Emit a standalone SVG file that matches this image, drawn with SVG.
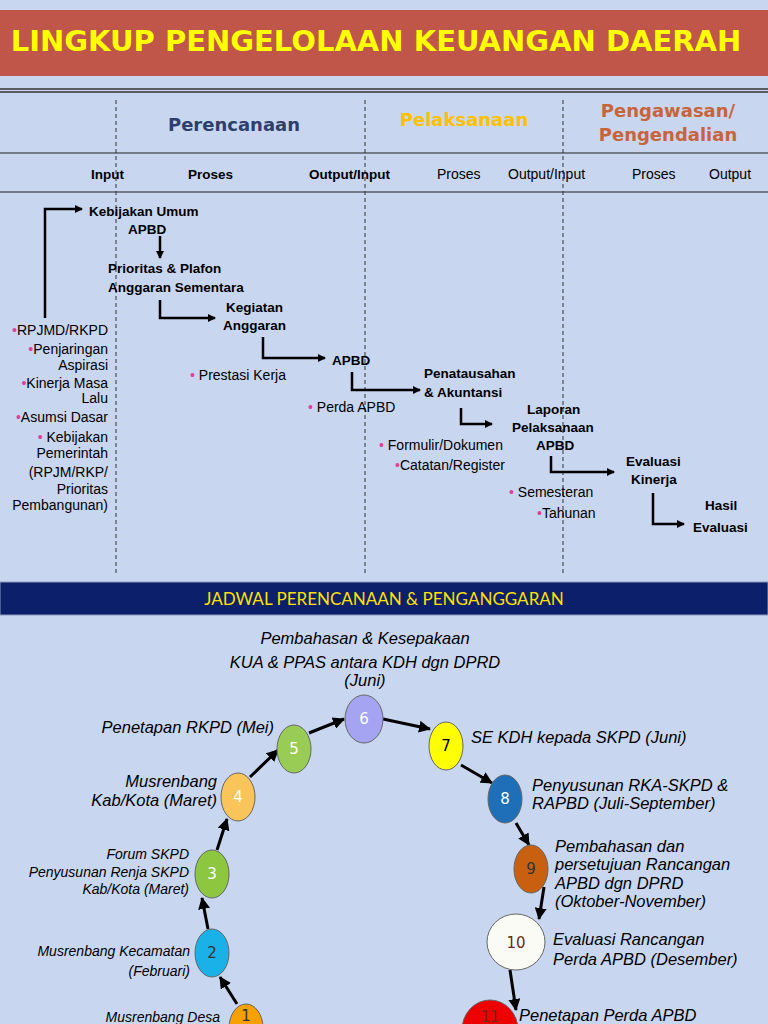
<svg xmlns="http://www.w3.org/2000/svg" width="768" height="1024" viewBox="0 0 768 1024">
<defs>
<marker id="ah" markerWidth="8" markerHeight="8" refX="7" refY="4" orient="auto" markerUnits="userSpaceOnUse"><path d="M0,0 L8,4 L0,8 z" fill="#000"/></marker>
<marker id="ah2" markerWidth="12" markerHeight="12" refX="11" refY="6" orient="auto" markerUnits="userSpaceOnUse"><path d="M0,0 L12,6 L0,12 z" fill="#000"/></marker>
</defs>
<style>
.b{font-family:"Liberation Sans",Arial,sans-serif;font-size:13.5px;font-weight:bold;fill:#000}
.n{font-family:"Liberation Sans",Arial,sans-serif;font-size:14px;fill:#000}
.s{font-family:"Liberation Sans",Arial,sans-serif;font-size:14px;fill:#000}
.i{font-family:"Liberation Sans",Arial,sans-serif;font-size:16.5px;font-style:italic;fill:#000}
.is{font-family:"Liberation Sans",Arial,sans-serif;font-size:14px;font-style:italic;fill:#000}
.h{font-family:"DejaVu Sans",sans-serif;font-size:18px;font-weight:bold}
.p{fill:#e0409a}
.fl{fill:none;stroke:#000;stroke-width:2.5;marker-end:url(#ah)}
.cl{fill:none;stroke:#000;stroke-width:3;marker-end:url(#ah2)}
.c{stroke:#666;stroke-width:1}
.cn{font-family:"DejaVu Sans",sans-serif;font-size:15px;text-anchor:middle;fill:#fff}
.dash{stroke:#333;stroke-width:1;stroke-dasharray:4,3}
</style>
<rect width="768" height="1024" fill="#c9d6f0"/>
<g id="title"><rect x="0" y="10" width="768" height="66" fill="#c0554a"/>
<text x="376" y="51" text-anchor="middle" font-family="DejaVu Sans,sans-serif" font-size="29" font-weight="bold" fill="#ffff00">LINGKUP PENGELOLAAN KEUANGAN DAERAH</text></g>
<g id="table">
<line x1="0" y1="89" x2="768" y2="89" stroke="#333" stroke-width="1.5"/>
<line x1="0" y1="92" x2="768" y2="92" stroke="#333" stroke-width="1.5"/>
<line x1="0" y1="153" x2="768" y2="153" stroke="#222" stroke-width="1.2"/>
<line x1="0" y1="192" x2="768" y2="192" stroke="#222" stroke-width="1.2"/>
<line class="dash" x1="116" y1="100" x2="116" y2="575"/>
<line class="dash" x1="365" y1="100" x2="365" y2="575"/>
<line class="dash" x1="563" y1="100" x2="563" y2="575"/>
<text class="h" x="234" y="131" text-anchor="middle" fill="#2e3f6e">Perencanaan</text>
<text class="h" x="464" y="126" text-anchor="middle" fill="#ffc000">Pelaksanaan</text>
<text class="h" x="668" y="117" text-anchor="middle" fill="#c8643c" font-size="17">Pengawasan/</text>
<text class="h" x="668" y="141" text-anchor="middle" fill="#c8643c" font-size="17">Pengendalian</text>
<text class="b" x="91" y="179" font-size="14">Input</text>
<text class="b" x="188" y="179" font-size="14">Proses</text>
<text class="b" x="309" y="179" font-size="14">Output/Input</text>
<text class="n" x="437" y="179" font-size="15.5">Proses</text>
<text class="n" x="508" y="179" font-size="15.5">Output/Input</text>
<text class="n" x="632" y="179" font-size="15.5">Proses</text>
<text class="n" x="709" y="179" font-size="15.5">Output</text>
</g>
<g id="flow-connectors">
<path class="fl" d="M45,318 V209 H82"/>
<path class="fl" d="M160,236 V258"/>
<path class="fl" d="M160,300 V318 H215"/>
<path class="fl" d="M263,337 V358 H325"/>
<path class="fl" d="M352,372 V390 H420"/>
<path class="fl" d="M461,408 V424 H492"/>
<path class="fl" d="M551,456 V472 H614"/>
<path class="fl" d="M653,493 V524 H684"/>
</g>
<g id="flow-nodes">
<text class="b" x="89" y="216">Kebijakan Umum</text><text class="b" x="128" y="234">APBD</text>
<text class="b" x="108" y="273">Prioritas &amp; Plafon</text><text class="b" x="108" y="292">Anggaran Sementara</text>
<text class="b" x="226" y="312">Kegiatan</text><text class="b" x="223" y="330">Anggaran</text>
<text class="b" x="332" y="365">APBD</text>
<text class="b" x="424" y="378">Penatausahan</text><text class="b" x="424" y="397">&amp; Akuntansi</text>
<text class="b" x="527" y="414">Laporan</text><text class="b" x="512" y="432">Pelaksanaan</text><text class="b" x="536" y="450">APBD</text>
<text class="b" x="626" y="466">Evaluasi</text><text class="b" x="631" y="484">Kinerja</text>
<text class="b" x="705" y="510">Hasil</text><text class="b" x="693" y="532">Evaluasi</text>
<g text-anchor="end">
<text class="s" x="108" y="335"><tspan class="p">•</tspan>RPJMD/RKPD</text>
<text class="s" x="108" y="354"><tspan class="p">•</tspan>Penjaringan</text>
<text class="s" x="108" y="370">Aspirasi</text>
<text class="s" x="108" y="388"><tspan class="p">•</tspan>Kinerja Masa</text>
<text class="s" x="108" y="403">Lalu</text>
<text class="s" x="108" y="422"><tspan class="p">•</tspan>Asumsi Dasar</text>
<text class="s" x="108" y="442"><tspan class="p">•</tspan> Kebijakan</text>
<text class="s" x="108" y="458">Pemerintah</text>
<text class="s" x="108" y="477">(RPJM/RKP/</text>
<text class="s" x="108" y="494">Prioritas</text>
<text class="s" x="108" y="510">Pembangunan)</text>
</g>
<text class="s" x="190" y="380"><tspan class="p">•</tspan> Prestasi Kerja</text>
<text class="s" x="308" y="412"><tspan class="p">•</tspan> Perda APBD</text>
<text class="s" x="379" y="450"><tspan class="p">•</tspan> Formulir/Dokumen</text>
<text class="s" x="395" y="470"><tspan class="p">•</tspan>Catatan/Register</text>
<text class="s" x="509" y="497"><tspan class="p">•</tspan> Semesteran</text>
<text class="s" x="537" y="518"><tspan class="p">•</tspan>Tahunan</text>
</g>
<g id="jadwal-bar"><rect x="0" y="582" width="768" height="33" fill="#0b1f6b" stroke="#8899bb"/>
<text x="384" y="605" text-anchor="middle" font-family="Lato,sans-serif" font-size="17" fill="#ffe000">JADWAL PERENCANAAN &amp; PENGANGGARAN</text></g>
<g id="cycle-connectors">
<path class="cl" d="M237,1004 L220,977"/>
<path class="cl" d="M208,929 L202,898"/>
<path class="cl" d="M217,850 L227,819"/>
<path class="cl" d="M250,777 L278,750"/>
<path class="cl" d="M309,733 L344,719"/>
<path class="cl" d="M383,719 L430,729"/>
<path class="cl" d="M461,765 L492,783"/>
<path class="cl" d="M516,823 L529,845"/>
<path class="cl" d="M544,887 L539,919"/>
<path class="cl" d="M510,970 L516,1010"/>
</g>
<g id="cycle-nodes">
<ellipse class="c" cx="246" cy="1028" rx="17" ry="24" fill="#f7a000"/><text class="cn" x="246" y="1021" font-size="12" style="fill:#333">1</text>
<ellipse class="c" cx="212" cy="953" rx="17" ry="24" fill="#1ab0e8"/><text class="cn" x="212" y="958" style="fill:#333">2</text>
<ellipse class="c" cx="212" cy="874" rx="17" ry="24" fill="#8dc63f"/><text class="cn" x="212" y="879">3</text>
<ellipse class="c" cx="238" cy="797" rx="17" ry="24" fill="#f9c45a"/><text class="cn" x="238" y="802">4</text>
<ellipse class="c" cx="294" cy="749" rx="17" ry="24" fill="#99cc55"/><text class="cn" x="294" y="754">5</text>
<ellipse class="c" cx="364" cy="719" rx="19" ry="24" fill="#a4a4f2"/><text class="cn" x="364" y="724">6</text>
<ellipse class="c" cx="446" cy="746" rx="17" ry="24" fill="#ffff00"/><text class="cn" x="446" y="751" style="fill:#000">7</text>
<ellipse class="c" cx="505" cy="799" rx="17" ry="24" fill="#1f6fb8"/><text class="cn" x="505" y="804">8</text>
<ellipse class="c" cx="531" cy="869" rx="17" ry="24" fill="#c8600f"/><text class="cn" x="531" y="874" style="fill:#333">9</text>
<ellipse class="c" cx="516" cy="942" rx="29" ry="28" fill="#fbfbf6"/><text class="cn" x="516" y="948" style="fill:#6b2a1a">10</text>
<ellipse class="c" cx="490" cy="1030" rx="28" ry="30" fill="#ee0000"/><text class="cn" x="490" y="1022" font-size="13" style="fill:#6b2a1a">11</text>
</g>
<g id="cycle-labels">
<text class="i" x="365" y="644" text-anchor="middle">Pembahasan &amp; Kesepakaan</text>
<text class="i" x="365" y="668" text-anchor="middle">KUA  &amp; PPAS antara KDH dgn DPRD</text>
<text class="i" x="365" y="686" text-anchor="middle">(Juni)</text>
<text class="i" x="274" y="733" text-anchor="end">Penetapan RKPD (Mei)</text>
<text class="i" x="217" y="787" text-anchor="end">Musrenbang</text>
<text class="i" x="217" y="806" text-anchor="end">Kab/Kota (Maret)</text>
<text class="is" x="189" y="859" text-anchor="end">Forum SKPD</text>
<text class="is" x="189" y="877" text-anchor="end">Penyusunan Renja SKPD</text>
<text class="is" x="189" y="894" text-anchor="end">Kab/Kota (Maret)</text>
<text class="is" x="190" y="956" text-anchor="end">Musrenbang Kecamatan</text>
<text class="is" x="190" y="976" text-anchor="end">(Februari)</text>
<text class="is" x="220" y="1022" text-anchor="end">Musrenbang Desa</text>
<text class="i" x="471" y="743">SE KDH kepada SKPD (Juni)</text>
<text class="i" x="532" y="791">Penyusunan RKA-SKPD &amp;</text>
<text class="i" x="532" y="809">RAPBD (Juli-September)</text>
<text class="i" x="555" y="852">Pembahasan dan</text>
<text class="i" x="555" y="870">persetujuan Rancangan</text>
<text class="i" x="555" y="889">APBD dgn DPRD</text>
<text class="i" x="555" y="907">(Oktober-November)</text>
<text class="i" x="553" y="945">Evaluasi Rancangan</text>
<text class="i" x="553" y="965">Perda APBD (Desember)</text>
<text class="i" x="519" y="1021">Penetapan Perda APBD</text>
</g>
</svg>
